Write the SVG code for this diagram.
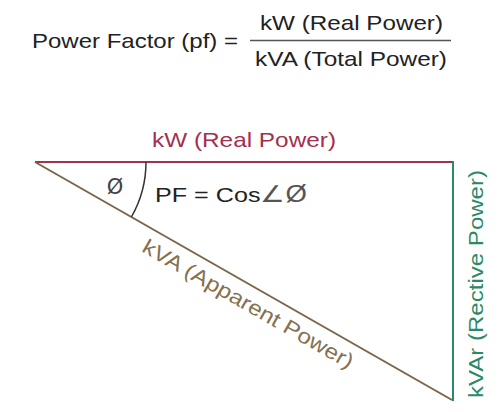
<svg xmlns="http://www.w3.org/2000/svg" width="500" height="412" viewBox="0 0 500 412">
<style>
text{font-family:"Liberation Sans",Arial,sans-serif;font-size:21px}
.dark{fill:#222}
.red{fill:#a3304f}
.green{fill:#2b8a66}
.brown{fill:#85704f}
.sym{fill:#444;font-family:"DejaVu Sans",sans-serif;font-weight:normal}
</style>
<rect width="500" height="412" fill="#fff"/>
<g id="formula">
<text class="dark" x="32" y="48" textLength="206" lengthAdjust="spacingAndGlyphs">Power Factor (pf) =</text>
<text class="dark" x="260" y="30" textLength="183" lengthAdjust="spacingAndGlyphs">kW (Real Power)</text>
<line x1="250" y1="40.5" x2="451" y2="40.5" stroke="#555" stroke-width="1.5"/>
<text class="dark" x="255" y="66" textLength="192" lengthAdjust="spacingAndGlyphs">kVA (Total Power)</text>
</g>
<g id="connectors" fill="none" stroke-width="2">
<line id="kw-line" x1="35" y1="162" x2="454" y2="162" stroke="#a3304f"/>
<line id="kvar-line" x1="453" y1="161" x2="453" y2="401" stroke="#2b8a66"/>
<line id="kva-line" x1="35" y1="162" x2="452" y2="400" stroke="#7a6548"/>
<path id="angle-arc" d="M146,162 A111,111 0 0 1 131.4,217" stroke="#333" stroke-width="1.5"/>
</g>
<g id="kw-label"><text class="red" x="152" y="147" textLength="184" lengthAdjust="spacingAndGlyphs">kW (Real Power)</text></g>
<g id="angle-label"><text class="sym" x="115" y="194" font-size="25" text-anchor="middle">Ø</text></g>
<g id="pf-label"><text class="dark" x="155" y="202" textLength="152" lengthAdjust="spacingAndGlyphs">PF = Cos<tspan fill="#555" font-size="23">∠Ø</tspan></text></g>
<g id="kva-label"><text class="brown" transform="translate(140.8,251) rotate(29.66)" x="0" y="0" textLength="239" lengthAdjust="spacingAndGlyphs">kVA (Apparent Power)</text></g>
<g id="kvar-label"><text class="green" transform="translate(483,398) rotate(-90)" x="0" y="0" textLength="228" lengthAdjust="spacingAndGlyphs">kVAr (Rective Power)</text></g>
</svg>
